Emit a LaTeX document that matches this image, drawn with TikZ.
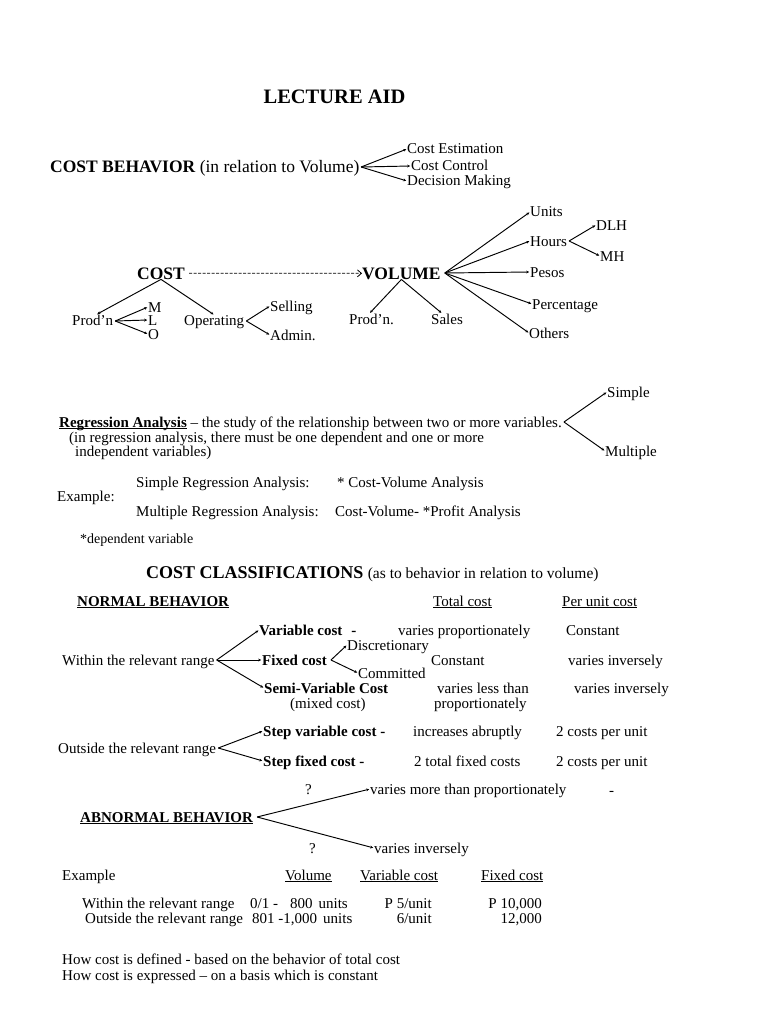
\documentclass[tikz,border=0pt]{standalone}
\usepackage{fontspec}
\setmainfont{Liberation Serif}
\usetikzlibrary{arrows.meta}
\newcommand\myul[1]{\underline{\smash{#1}}}
\begin{document}
\begin{tikzpicture}[x=1pt,y=-1pt,
 txt/.style={anchor=base west, inner sep=0pt, font=\fontsize{15}{16}\selectfont},
 txtr/.style={txt, anchor=base east},
 bold/.style={txt, font=\fontsize{15}{16}\selectfont\bfseries},
 big/.style={txt, font=\fontsize{17.5}{19}\selectfont\bfseries},
 br/.style={line width=0.95pt, shorten >=0.8pt, -{Stealth[length=3pt,width=2.8pt]}},
]
\useasboundingbox (0,0) rectangle (768,1024);
\fill[white] (0,0) rectangle (768,1024);

% title
\node[txt, anchor=base, font=\fontsize{20.5}{22}\selectfont\bfseries] (title) at (334.5,104) {LECTURE AID};

% cost behavior
\node[txt, font=\fontsize{17.5}{19}\selectfont] (cb) at (50,173) {\textbf{COST BEHAVIOR} (in relation to Volume)};
\coordinate (cbj) at ([shift={(1.5pt,6pt)}]cb.base east);
\node[txt] (ce) at (407,154) {Cost Estimation};
\node[txt] (cc) at (411,171) {Cost Control};
\node[txt] (dm) at (407,186) {Decision Making};
\draw[br] (cbj) -- ([yshift=5pt]ce.base west);
\draw[br] (cbj) -- ([yshift=5pt]cc.base west);
\draw[br] (cbj) -- ([yshift=5pt]dm.base west);

% cost / volume
\node[big] (cost) at (137,279) {COST};
\node[big] (vol) at (362,279) {VOLUME};
\draw[dash pattern=on 3pt off 1.5pt, line width=0.8pt, -{Straight Barb[length=4pt,width=7pt]}] ([xshift=4pt]cost.east) -- (vol.west);

\node[txt] (pd) at (72,325) {Prod’n};
\coordinate (pdj) at ([shift={(2pt,4pt)}]pd.base east);
\node[txt] (m) at (148,312) {M};
\node[txt] (l) at (148,325) {L};
\node[txt] (o) at (148,339) {O};
\node[txt] (op) at (184,325) {Operating};
\coordinate (opj) at ([shift={(2pt,4pt)}]op.base east);
\node[txt] (sell) at (270,311) {Selling};
\node[txt] (adm) at (270,340) {Admin.};
\draw[br] (cost.south) -- ([xshift=4pt]pd.north);
\draw[br] (cost.south) -- (op.north);
\draw[br] (pdj) -- ([yshift=5pt]m.base west);
\draw[br] (pdj) -- ([yshift=5pt]l.base west);
\draw[br] (pdj) -- ([yshift=5pt]o.base west);
\draw[br] (opj) -- ([yshift=5pt]sell.base west);
\draw[br] (opj) -- ([yshift=5pt]adm.base west);

\coordinate (volj) at ([shift={(4pt,6pt)}]vol.base east);
\node[txt] (units) at (530,217) {Units};
\node[txt] (hours) at (530,246) {Hours};
\node[txt] (pesos) at (530,277) {Pesos};
\node[txt] (pct) at (532,309) {Percentage};
\node[txt] (oth) at (529,338) {Others};
\draw[br] (volj) -- ([yshift=5pt]units.base west);
\draw[br] (volj) -- ([yshift=5pt]hours.base west);
\draw[br] (volj) -- ([yshift=5pt]pesos.base west);
\draw[br] (volj) -- ([yshift=5pt]pct.base west);
\draw[br] (volj) -- ([yshift=5pt]oth.base west);
\coordinate (hrj) at ([shift={(2pt,5pt)}]hours.base east);
\node[txt] (dlh) at (596,230) {DLH};
\node[txt] (mh) at (600,261) {MH};
\draw[br] (hrj) -- ([yshift=5pt]dlh.base west);
\draw[br] (hrj) -- ([yshift=5pt]mh.base west);
\node[txt] (vpd) at (349,324) {Prod’n.};
\node[txt] (sales) at (431,324) {Sales};
\draw[br] (vol.south) -- ([xshift=-2pt]vpd.north);
\draw[br] (vol.south) -- ([xshift=-5pt]sales.north);

% regression
\node[txt] (reg) at (59,427) {\myul{\textbf{Regression Analysis}} – the study of the relationship between two or more variables.};
\coordinate (regj) at ([shift={(2pt,5pt)}]reg.base east);
\node[txt] (simple) at (607,397) {Simple};
\node[txt] (multiple) at (605,456) {Multiple};
\draw[br] (regj) -- ([yshift=5pt]simple.base west);
\draw[br] (regj) -- ([yshift=5pt]multiple.base west);
\node[txt] (reg2) at (69,442) {(in regression analysis, there must be one dependent and one or more};
\node[txt] (reg3) at (75,456) {independent variables)};

\node[txt] (sra) at (136,487) {Simple Regression Analysis:};
\node[txt] (cva) at (337,487) {* Cost-Volume Analysis};
\node[txt] (ex) at (57,501) {Example:};
\node[txt] (mra) at (136,516) {Multiple Regression Analysis:};
\node[txt] (cvpa) at (335,516) {Cost-Volume- *Profit Analysis};
\node[txt, font=\fontsize{14}{15}\selectfont] (dep) at (80,543) {*dependent variable};

% classifications
\node[txt, font=\fontsize{18}{20}\selectfont\bfseries] (cls) at (146,578) {COST CLASSIFICATIONS};
\node[txt, font=\fontsize{15.5}{17}\selectfont] (cls2) at ([xshift=4pt]cls.base east) {(as to behavior in relation to volume)};

\node[bold] (nb) at (77,606) {\myul{NORMAL BEHAVIOR}};
\node[txt] (tc) at (433,606) {\myul{Total cost}};
\node[txt] (puc) at (562,606) {\myul{Per unit cost}};

\node[txt] (wr) at (62,665) {Within the relevant range};
\coordinate (wrj) at ([shift={(2pt,5pt)}]wr.base east);
\node[bold] (vc) at (259,635) {Variable cost\hspace{9pt}-};
\node[txt] (vp) at (398,635) {varies proportionately};
\node[txt] (c1) at (566,635) {Constant};
\node[bold] (fc) at (262,665) {Fixed cost};
\coordinate (fcj) at ([shift={(4pt,5pt)}]fc.base east);
\node[txt] (disc) at (347,650) {Discretionary};
\node[txt] (comm) at (358,678) {Committed};
\node[txt] (c2) at (431,665) {Constant};
\node[txt] (vi1) at (568,665) {varies inversely};
\node[bold] (svc) at (264,693) {Semi-Variable Cost};
\node[txt] (mc) at (290,708) {(mixed cost)};
\node[txt] (vlt) at (437,693) {varies less than};
\node[txt] (prop) at (434,708) {proportionately};
\node[txt] (vi2) at (574,693) {varies inversely};
\draw[br] (wrj) -- ([yshift=5pt]vc.base west);
\draw[br] (wrj) -- ([yshift=5pt]fc.base west);
\draw[br] (wrj) -- ([yshift=5pt]svc.base west);
\draw[br] (fcj) -- ([yshift=5pt]disc.base west);
\draw[br] (fcj) -- ([yshift=5pt]comm.base west);

\node[txt] (orr) at (58,753) {Outside the relevant range};
\coordinate (orj) at ([shift={(2pt,5pt)}]orr.base east);
\node[bold] (svar) at (263,736) {Step variable cost -};
\node[txt] (ia) at (413,736) {increases abruptly};
\node[txt] (cpu1) at (556,736) {2 costs per unit};
\node[bold] (sfc) at (263,766) {Step fixed cost -};
\node[txt] (tfc) at (414,766) {2 total fixed costs};
\node[txt] (cpu2) at (556,766) {2 costs per unit};
\draw[br] (orj) -- ([yshift=5pt]svar.base west);
\draw[br] (orj) -- ([yshift=5pt]sfc.base west);

\node[txt] (q1) at (305,794) {?};
\node[txt] (vmtp) at (370,794) {varies more than proportionately};
\node[txt] (dsh) at (609,795) {-};
\node[bold] (ab) at (80,822) {\myul{ABNORMAL BEHAVIOR}};
\coordinate (abj) at ([shift={(4pt,5pt)}]ab.base east);
\node[txt] (q2) at (309,853) {?};
\node[txt] (vi3) at (374,853) {varies inversely};
\draw[br] (abj) -- ([yshift=5pt]vmtp.base west);
\draw[br] (abj) -- ([yshift=5pt]vi3.base west);

% example table
\node[txt] (ex2) at (62,880) {Example};
\node[txt] (vh) at (285,880) {\myul{Volume}};
\node[txt] (vch) at (360,880) {\myul{Variable cost}};
\node[txt] (fch) at (481,880) {\myul{Fixed cost}};
\node[txt] (w2) at (82,908) {Within the relevant range};
\node[txt] (v1) at (250,908) {0/1 -\hspace{12pt}800\hspace{6pt}units};
\node[txtr] (vc1) at (432,908) {P 5/unit};
\node[txtr] (fc1) at (542,908) {P 10,000};
\node[txt] (o2) at (85,923) {Outside the relevant range};
\node[txt] (v2) at (252,923) {801 -1,000\hspace{6pt}units};
\node[txtr] (vc2) at (432,923) {6/unit};
\node[txtr] (fc2) at (542,923) {12,000};

\node[txt] (h1) at (62,964) {How cost is defined - based on the behavior of total cost};
\node[txt] (h2) at (62,980) {How cost is expressed – on a basis which is constant};
\end{tikzpicture}
\end{document}
